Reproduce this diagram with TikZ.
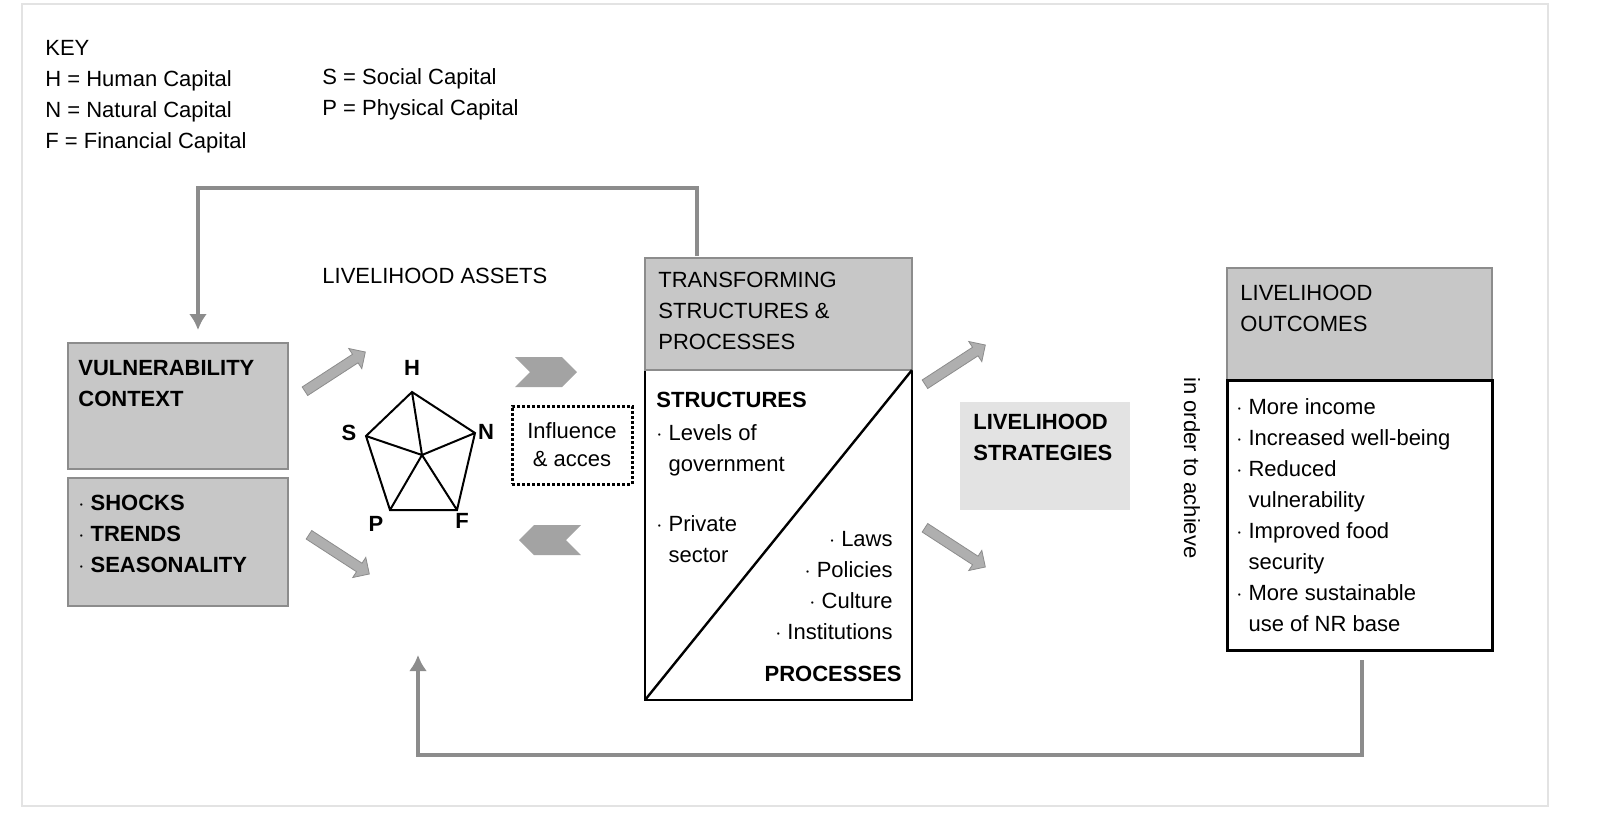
\documentclass[tikz,border=0pt]{standalone}
\usepackage{fontspec}
\setmainfont{Liberation Sans}
\usetikzlibrary{shapes.arrows,shapes.symbols,arrows.meta}
\definecolor{ag}{gray}{0.55}
\definecolor{bg}{gray}{0.78}
\definecolor{lg}{gray}{0.89}
\begin{document}
\begin{tikzpicture}[x=0.5pt,y=-0.5pt,
  txt/.style={anchor=north west,inner sep=0,align=left,font=\fontsize{11}{15.5}\selectfont},
  btxt/.style={txt,font=\fontsize{11}{15.5}\selectfont\bfseries},
  fb/.style={draw=ag,line width=2pt,-{Latex[length=8pt,width=9pt]}},
  da/.style={draw=ag,fill=ag!70,line width=0.4pt,single arrow,minimum height=36pt,minimum width=12pt,single arrow head extend=3pt,inner sep=2pt},
  ba/.style={fill=ag!80,signal,signal to=east,signal from=west,minimum height=15pt,minimum width=31pt,inner sep=0}]
\draw[lg,line width=0.8pt] (22,4) rectangle (1548,806);
% key
\node[txt] (key) at (45,40) {KEY\\H = Human Capital\\N = Natural Capital\\F = Financial Capital};
\node[txt] (key2) at (322,68) {S = Social Capital\\P = Physical Capital};
% boxes
\node[draw=ag,fill=bg,line width=1pt,minimum width=110pt,minimum height=63pt,anchor=north west] (vc) at (67,342) {};
\node[btxt] at (78,360) {VULNERABILITY\\CONTEXT};
\node[draw=ag,fill=bg,line width=1pt,minimum width=110pt,minimum height=64pt,anchor=north west] (sh) at (67,477) {};
\node[btxt] at (78,495) {$\cdot$ SHOCKS\\$\cdot$ TRENDS\\$\cdot$ SEASONALITY};
\node[txt] (la) at (322,268) {LIVELIHOOD ASSETS};
% pentagon
\coordinate (H) at (412,392); \coordinate (N) at (475,433); \coordinate (F) at (457,510);
\coordinate (P) at (390,510); \coordinate (S) at (366,436); \coordinate (C) at (422,455);
\draw[line width=1pt] (H)--(N)--(F)--(P)--(S)--cycle (H)--(C) (N)--(C) (F)--(C) (P)--(C) (S)--(C);
\node[font=\fontsize{11}{13}\selectfont\bfseries] at (412,368) {H};
\node[font=\fontsize{11}{13}\selectfont\bfseries] at (486,432) {N};
\node[font=\fontsize{11}{13}\selectfont\bfseries] at (349,433) {S};
\node[font=\fontsize{11}{13}\selectfont\bfseries] at (376,524) {P};
\node[font=\fontsize{11}{13}\selectfont\bfseries] at (462,521) {F};
\node[draw,densely dotted,line width=1.5pt,minimum width=60pt,minimum height=39pt,inner sep=0,align=center,font=\fontsize{11}{14}\selectfont] (ia) at (572,445) {Influence\\\& acces};
% block arrows
\node[ba] (ar1) at (546,372) {};
\node[ba,signal to=west,signal from=east] (ar2) at (550,540) {};
\node[da,rotate=33] (d1) at (333,373) {};
\node[da,rotate=-33] (d2) at (337,553) {};
\node[da,rotate=33] (d3) at (953,366) {};
\node[da,rotate=-33] (d4) at (953,546) {};
% transforming
\fill[bg] (645,258) rectangle (912,370);
\draw[line width=1.2pt] (645,370) rectangle (912,700);
\draw[ag,line width=1pt] (645,258) rectangle (912,370);
\draw[line width=1.2pt] (645,700) -- (912,370);
\node[txt] (ts) at (658,272) {TRANSFORMING\\STRUCTURES \&\\PROCESSES};
\node[btxt] at (656,392) {STRUCTURES};
\node[txt] at (656,424) {$\cdot$ Levels of\\\ \ government};
\node[txt] at (656,515) {$\cdot$ Private\\\ \ sector};
\node[txt,anchor=north east,align=right] at (893,531) {$\cdot$ Laws\\$\cdot$ Policies\\$\cdot$ Culture\\$\cdot$ Institutions};
\node[btxt,anchor=north east] at (902,666) {PROCESSES};
% strategies
\node[fill=lg,minimum width=85pt,minimum height=54pt,anchor=north west] (ls) at (960,402) {};
\node[btxt] at (973,414) {LIVELIHOOD\\STRATEGIES};
\node[rotate=-90,font=\fontsize{11}{13}\selectfont] (oa) at (1192,468) {in order to achieve};
% outcomes
\fill[bg] (1227,268) rectangle (1492,380);
\draw[ag,line width=1pt] (1227,268) rectangle (1492,380);
\draw[line width=1.5pt] (1227,380) rectangle (1492,650);
\node[txt] (lo) at (1240,285) {LIVELIHOOD\\OUTCOMES};
\node[txt] at (1236,398) {$\cdot$ More income\\$\cdot$ Increased well-being\\$\cdot$ Reduced\\\ \ vulnerability\\$\cdot$ Improved food\\\ \ security\\$\cdot$ More sustainable\\\ \ use of NR base};
% feedback
\coordinate (t1) at (697,256); \coordinate (t2) at (198,330);
\draw[fb] (t1) |- (198,188) -- (t2);
\coordinate (b1) at (1362,660); \coordinate (b2) at (418,655);
\draw[fb] (b1) |- (418,755) -- (b2);
\pgfresetboundingbox
\useasboundingbox (0,0) rectangle (1599,820);
\end{tikzpicture}
\end{document}
